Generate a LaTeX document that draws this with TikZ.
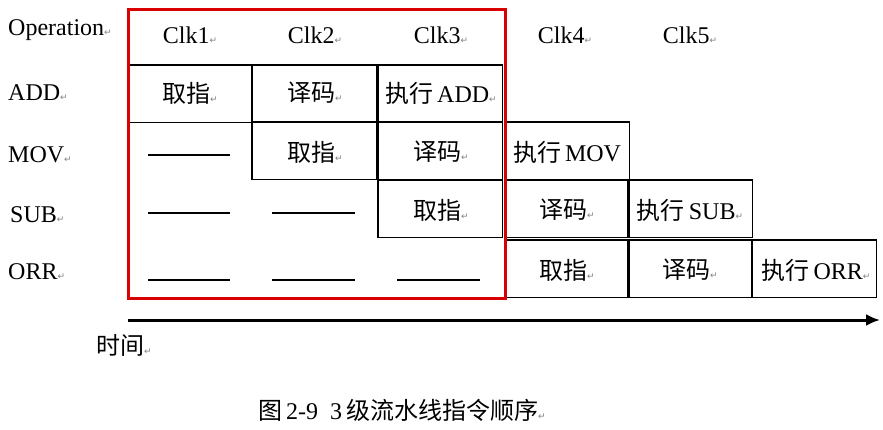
\documentclass[tikz,border=0pt]{standalone}
\usepackage{fontspec}
\usetikzlibrary{arrows.meta}
\setmainfont{Liberation Serif}
\newfontfamily\cjk{Noto Sans CJK SC}
\newfontfamily\djv{DejaVu Sans}
\newcommand{\rt}{{\djv\fontsize{9}{9}\selectfont\color{gray}↵}}
\begin{document}
\begin{tikzpicture}[x=1pt,y=-1pt,
  lbl/.style={font=\fontsize{24}{26}\selectfont, inner sep=0pt},
  cell/.style={draw=black, line width=1.6pt},
  dashln/.style={line width=2pt},
  redbox/.style={draw=red!85!black, line width=3pt}]
\useasboundingbox (0,0) rectangle (883,430);
\foreach \x/\y in {128/65,252/65,378/65,252/122,378/122,505/122,378/180,505/180,628/180,505/240,628/240,752/240}
  \draw[cell] (\x,\y) rectangle ++(124.5,57.5);
\node[lbl] (a1) at (190,93) {\cjk 取指\rt};
\node[lbl] (a2) at (315,93) {\cjk 译码\rt};
\node[lbl] (a3) at (441,93) {{\cjk 执行}\,ADD\rt};
\node[lbl] (m2) at (315,152) {\cjk 取指\rt};
\node[lbl] (m3) at (441,152) {\cjk 译码\rt};
\node[lbl] (m4) at (567,152) {{\cjk 执行}\,MOV};
\node[lbl] (s3) at (441,210) {\cjk 取指\rt};
\node[lbl] (s4) at (567,210) {\cjk 译码\rt};
\node[lbl] (s5) at (690,210) {{\cjk 执行}\,SUB\rt};
\node[lbl] (o4) at (567,270) {\cjk 取指\rt};
\node[lbl] (o5) at (690,270) {\cjk 译码\rt};
\node[lbl] (o6) at (816,270) {{\cjk 执行}\,ORR\rt};
\draw[dashln] (148,155) -- (230,155);
\draw[dashln] (148,213) -- (230,213);
\draw[dashln] (272,213) -- (355,213);
\draw[dashln] (148,280) -- (230,280);
\draw[dashln] (272,280) -- (355,280);
\draw[dashln] (397,280) -- (480,280);
\draw[redbox] (128,10) rectangle (505,298);
\node[lbl, anchor=west] (op) at (8,30) {Operation\rt};
\node[lbl] (c1) at (190,35) {Clk1\rt};
\node[lbl] (c2) at (315,35) {Clk2\rt};
\node[lbl] (c3) at (441,35) {Clk3\rt};
\node[lbl] (c4) at (565,35) {Clk4\rt};
\node[lbl] (c5) at (690,35) {Clk5\rt};
\node[lbl, anchor=west] (radd) at (8,93) {ADD\rt};
\node[lbl, anchor=west] (rmov) at (8,155) {MOV\rt};
\node[lbl, anchor=west] (rsub) at (10,215) {SUB\rt};
\node[lbl, anchor=west] (rorr) at (8,272) {ORR\rt};
\coordinate (t0) at (128,320);
\coordinate (t1) at (880,320);
\draw[line width=3pt, -{Latex[length=14pt,width=12pt]}] (t0) -- (t1);
\node[lbl, anchor=west] (time) at (96,345) {{\cjk 时间}\rt};
\node[lbl, anchor=west] (cap) at (258,410) {{\cjk 图}\,2-9\ \ 3\,{\cjk 级流水线指令顺序}\rt};
\end{tikzpicture}
\end{document}
